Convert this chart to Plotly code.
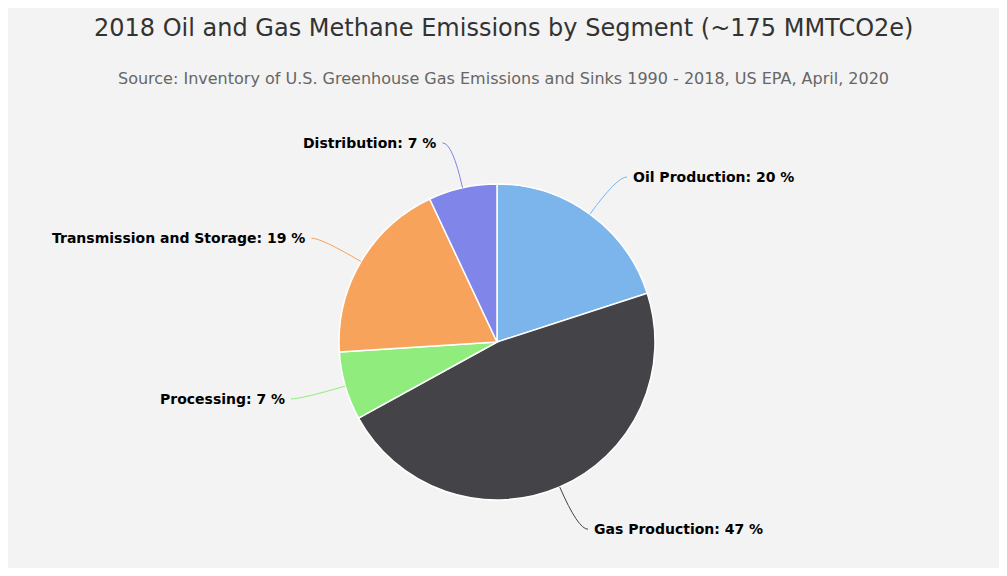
import math
import plotly.graph_objects as go

segments = ["Oil Production", "Gas Production", "Processing", "Transmission and Storage", "Distribution"]
shares = [20, 47, 7, 19, 7]
colors = ["#7cb5ec", "#434348", "#90ed7d", "#f7a35c", "#8085e9"]

# the page adds an 8px body margin, so the figure is sized and placed to compensate
OFF = 8
W, H = 1007 - 2 * OFF, 576 - 2 * OFF
cx, cy, r = 497 - OFF, 342 - OFF, 158

fig = go.Figure(go.Pie(
    labels=segments, values=shares, sort=False, direction="clockwise", rotation=0,
    marker=dict(colors=colors, line=dict(color="#ffffff", width=1.5)),
    textinfo="none", hoverinfo="label+percent", showlegend=False,
    domain=dict(x=[(cx - r) / W, (cx + r) / W], y=[1 - (cy + r) / H, 1 - (cy - r) / H]),
))

def px(x, y):
    return x / W, 1 - y / H

# data labels with curved connectors, positioned from each slice's mid angle
total = sum(shares)
start = 0.0
for name, val, col in zip(segments, shares, colors):
    mid = (start + val / 2) / total * 2 * math.pi
    start += val
    sx, sy = math.sin(mid), -math.cos(mid)
    ex, ey = cx + r * sx, cy + r * sy
    lx, ly = cx + (r + 46) * sx, cy + (r + 46) * sy
    side = 1 if sx >= 0 else -1
    tx = lx + side * 14
    p0, p1, p2 = px(ex, ey), px(lx, ly), px(tx - side * 4, ly)
    fig.add_shape(type="path", xref="paper", yref="paper",
                  path=f"M {p0[0]},{p0[1]} Q {p1[0]},{p1[1]} {p2[0]},{p2[1]}",
                  line=dict(color=col, width=1))
    ax, ay = px(tx, ly)
    fig.add_annotation(x=ax, y=ay, xref="paper", yref="paper", showarrow=False,
                       text=f"<b>{name}: {val} %</b>",
                       xanchor="left" if side > 0 else "right", yanchor="middle",
                       font=dict(family="DejaVu Sans", size=14, color="#000000"))

fig.add_annotation(x=0.5, y=1 - 20 / H, xref="paper", yref="paper", showarrow=False,
                   yanchor="middle",
                   text="2018 Oil and Gas Methane Emissions by Segment (~175 MMTCO2e)",
                   font=dict(family="DejaVu Sans", size=24, color="#333333"))
fig.add_annotation(x=0.5, y=1 - 70 / H, xref="paper", yref="paper", showarrow=False,
                   yanchor="middle",
                   text="Source: Inventory of U.S. Greenhouse Gas Emissions and Sinks 1990 - 2018, US EPA, April, 2020",
                   font=dict(family="DejaVu Sans", size=16, color="#666666"))

fig.update_layout(width=W, height=H, margin=dict(l=0, r=0, t=0, b=0),
                  paper_bgcolor="#f3f3f3", plot_bgcolor="#f3f3f3")
fig.write_html("out.html")
